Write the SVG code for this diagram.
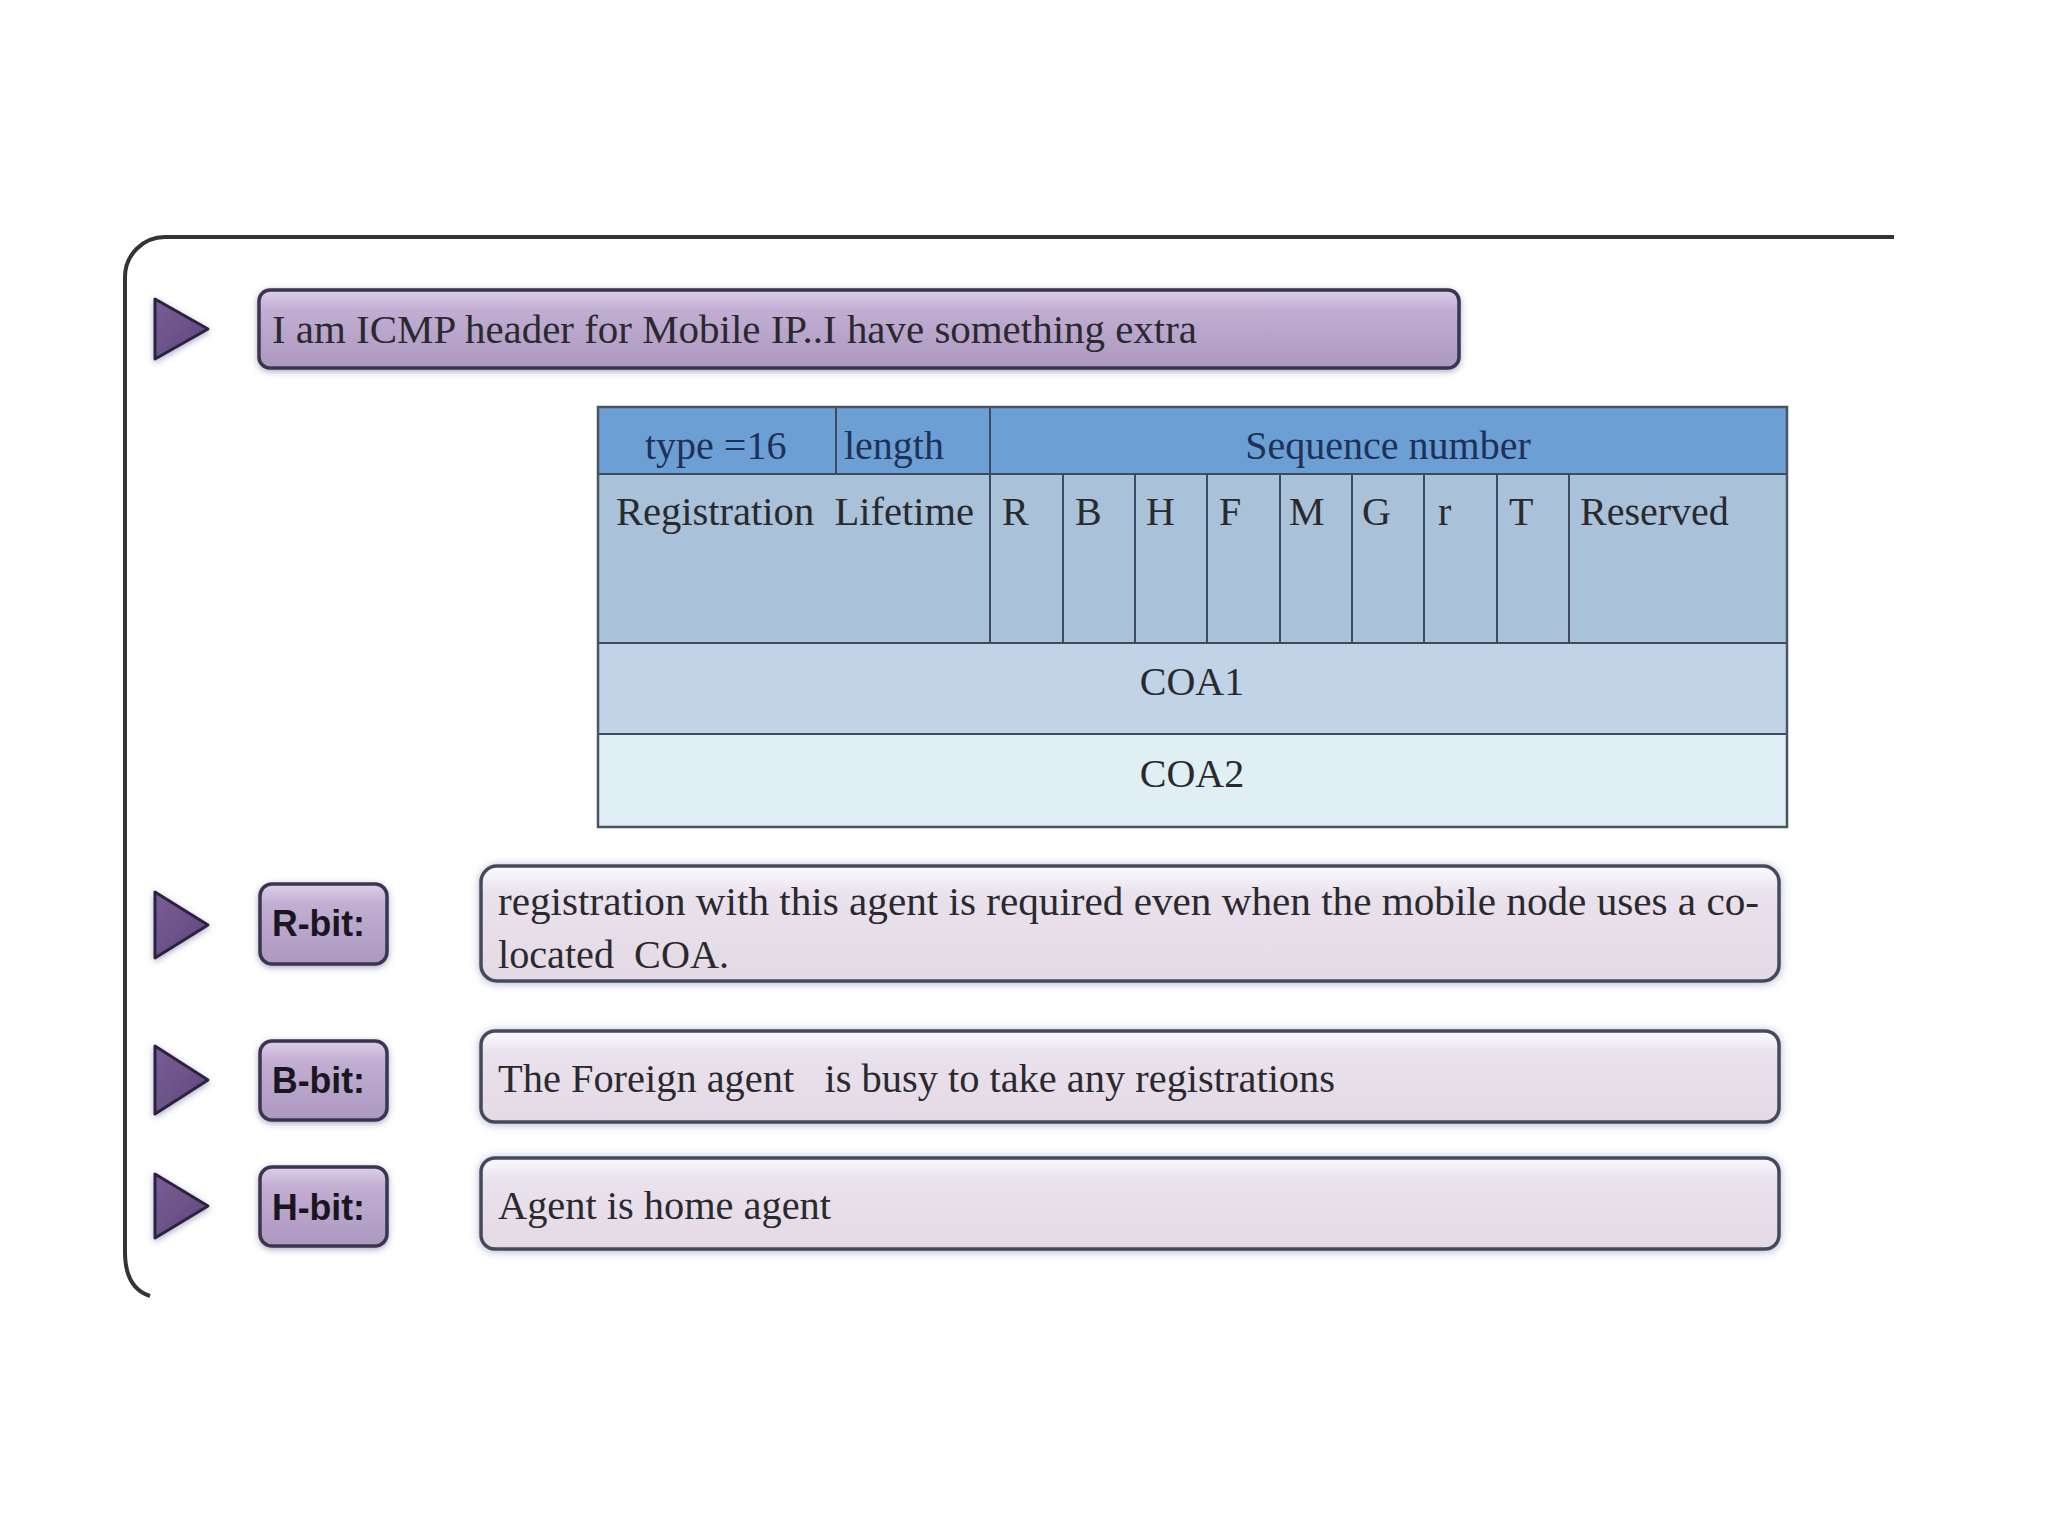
<svg xmlns="http://www.w3.org/2000/svg" width="2048" height="1536" viewBox="0 0 2048 1536">
<defs>
<style>
.serif{font-family:"Liberation Serif","Times New Roman",serif;fill:#2a2a2e;white-space:pre}
.t40{font-size:40px}
.hdr{fill:#1e3158}
.lbl{font-family:"Liberation Sans",Arial,sans-serif;font-weight:bold;font-size:36px;fill:#1a1620}
.tri{fill:url(#triG);stroke:#2b2440;stroke-width:3;stroke-linejoin:round;filter:url(#sh)}
.pbox{fill:url(#purG);stroke:#3a3450;stroke-width:3.5;filter:url(#sh)}
.dbox{fill:url(#descG);stroke:#454a5c;stroke-width:3.5;filter:url(#sh2)}
.cell{stroke:#3f4b5c;stroke-width:2;fill:none}
</style>
<linearGradient id="purG" x1="0" y1="0" x2="0" y2="1">
<stop offset="0" stop-color="#ddd0ea"/>
<stop offset="0.25" stop-color="#c2aed3"/>
<stop offset="1" stop-color="#ad98c0"/>
</linearGradient>
<linearGradient id="descG" x1="0" y1="0" x2="0" y2="1">
<stop offset="0" stop-color="#fbfbff"/>
<stop offset="0.25" stop-color="#e9e1ec"/>
<stop offset="1" stop-color="#e4dae6"/>
</linearGradient>
<linearGradient id="triG" x1="0" y1="0" x2="1" y2="1">
<stop offset="0" stop-color="#7a5e98"/>
<stop offset="1" stop-color="#5e4678"/>
</linearGradient>
<filter id="sh" x="-20%" y="-30%" width="140%" height="160%">
<feDropShadow dx="0" dy="2" stdDeviation="3" flood-color="#6a6890" flood-opacity="0.55"/>
</filter>
<filter id="sh2" x="-5%" y="-20%" width="110%" height="140%">
<feDropShadow dx="0" dy="1" stdDeviation="4" flood-color="#7a88b0" flood-opacity="0.6"/>
</filter>
</defs>
<rect x="0" y="0" width="2048" height="1536" fill="#ffffff"/>

<g id="frame">
<path d="M1894,237 H165 A40,40 0 0 0 125,277 V1252 Q125,1288 150,1296" fill="none" stroke="#333338" stroke-width="4"/>
</g>

<g id="title">
<polygon class="tri" points="155,299 208,329 155,359"/>
<rect class="pbox" x="259" y="290" width="1200" height="78" rx="11"/>
<text class="serif t40" x="272" y="343" textLength="925" lengthAdjust="spacingAndGlyphs">I am ICMP header for Mobile IP..I have something extra</text>
</g>

<g id="table">
<rect x="598" y="407" width="1189" height="67" fill="#6c9fd3"/>
<rect x="598" y="474" width="1189" height="169" fill="#a9c1d9"/>
<rect x="598" y="643" width="1189" height="91" fill="#c0d3e7"/>
<rect x="598" y="734" width="1189" height="93" fill="#e0eff3"/>
<line class="cell" x1="598" y1="474" x2="1787" y2="474"/>
<line class="cell" x1="598" y1="643" x2="1787" y2="643"/>
<line class="cell" x1="598" y1="734" x2="1787" y2="734"/>
<line class="cell" x1="836" y1="407" x2="836" y2="474"/>
<line class="cell" x1="990" y1="407" x2="990" y2="643"/>
<line class="cell" x1="1063" y1="474" x2="1063" y2="643"/>
<line class="cell" x1="1135" y1="474" x2="1135" y2="643"/>
<line class="cell" x1="1207" y1="474" x2="1207" y2="643"/>
<line class="cell" x1="1280" y1="474" x2="1280" y2="643"/>
<line class="cell" x1="1352" y1="474" x2="1352" y2="643"/>
<line class="cell" x1="1424" y1="474" x2="1424" y2="643"/>
<line class="cell" x1="1497" y1="474" x2="1497" y2="643"/>
<line class="cell" x1="1569" y1="474" x2="1569" y2="643"/>
<rect x="598" y="407" width="1189" height="420" fill="none" stroke="#4a5564" stroke-width="2.5"/>
<text class="serif t40 hdr" x="645" y="459">type =16</text>
<text class="serif t40 hdr" x="844" y="459">length</text>
<text class="serif t40 hdr" x="1388" y="459" text-anchor="middle">Sequence number</text>
<text class="serif t40" x="616" y="525" textLength="358" lengthAdjust="spacingAndGlyphs">Registration  Lifetime</text>
<text class="serif t40" x="1002" y="525">R</text>
<text class="serif t40" x="1075" y="525">B</text>
<text class="serif t40" x="1146" y="525">H</text>
<text class="serif t40" x="1219" y="525">F</text>
<text class="serif t40" x="1289" y="525">M</text>
<text class="serif t40" x="1362" y="525">G</text>
<text class="serif t40" x="1438" y="525">r</text>
<text class="serif t40" x="1509" y="525">T</text>
<text class="serif t40" x="1580" y="525">Reserved</text>
<text class="serif t40" x="1192" y="695" text-anchor="middle">COA1</text>
<text class="serif t40" x="1192" y="787" text-anchor="middle">COA2</text>
</g>

<g id="rbit">
<polygon class="tri" points="155,892 208,925 155,958"/>
<rect class="pbox" x="260" y="884" width="127" height="80" rx="12"/>
<text class="lbl" x="272" y="936" textLength="93" lengthAdjust="spacingAndGlyphs">R-bit:</text>
<rect class="dbox" x="481" y="866" width="1298" height="115" rx="16"/>
<text class="serif t40" x="498" y="915" textLength="1261" lengthAdjust="spacingAndGlyphs">registration with this agent is required even when the mobile node uses a co-</text>
<text class="serif t40" x="498" y="968" textLength="231" lengthAdjust="spacingAndGlyphs" xml:space="preserve">located  COA.</text>
</g>

<g id="bbit">
<polygon class="tri" points="155,1046 208,1080 155,1114"/>
<rect class="pbox" x="260" y="1041" width="127" height="79" rx="12"/>
<text class="lbl" x="272" y="1093" textLength="93" lengthAdjust="spacingAndGlyphs">B-bit:</text>
<rect class="dbox" x="481" y="1031" width="1298" height="91" rx="14"/>
<text class="serif t40" x="498" y="1092" textLength="837" lengthAdjust="spacingAndGlyphs" xml:space="preserve">The Foreign agent   is busy to take any registrations</text>
</g>

<g id="hbit">
<polygon class="tri" points="155,1174 208,1206 155,1238"/>
<rect class="pbox" x="260" y="1167" width="127" height="79" rx="12"/>
<text class="lbl" x="272" y="1220" textLength="93" lengthAdjust="spacingAndGlyphs">H-bit:</text>
<rect class="dbox" x="481" y="1158" width="1298" height="91" rx="14"/>
<text class="serif t40" x="498" y="1219" textLength="333" lengthAdjust="spacingAndGlyphs">Agent is home agent</text>
</g>
</svg>
